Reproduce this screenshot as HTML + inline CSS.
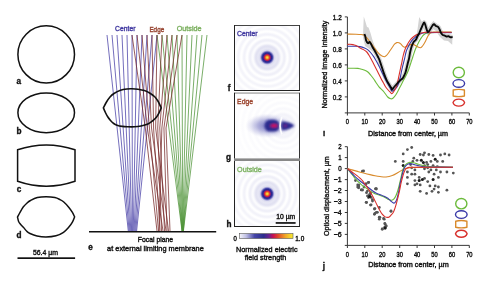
<!DOCTYPE html>
<html><head><meta charset="utf-8"><style>
html,body{margin:0;padding:0;background:#fff;overflow:hidden;}
svg{display:block;font-family:"Liberation Sans", sans-serif;will-change:transform;}
</style></head><body>
<svg width="496" height="281" viewBox="0 0 496 281">
<rect width="496" height="281" fill="#fff"/>
<ellipse cx="46.2" cy="54.4" rx="28.3" ry="28.6" fill="none" stroke="#111" stroke-width="1.5"/>
<ellipse cx="46.2" cy="112.8" rx="28.3" ry="19.9" fill="none" stroke="#111" stroke-width="1.5"/>
<path d="M17.6,149.7 Q46.3,140.2 75,149.7 L75,181.3 Q46.3,191.2 17.6,181.3 Z" fill="none" stroke="#111" stroke-width="1.5"/>
<path d="M17.50,217.10 C17.97,216.22 19.32,213.52 20.30,211.80 C21.28,210.08 22.32,208.23 23.40,206.80 C24.48,205.37 25.62,204.25 26.80,203.20 C27.98,202.15 28.73,201.43 30.50,200.50 C32.27,199.57 34.80,198.22 37.40,197.60 C40.00,196.98 43.18,196.80 46.10,196.80 C49.02,196.80 52.58,197.13 54.90,197.60 C57.22,198.07 58.57,198.90 60.00,199.60 C61.43,200.30 62.05,200.53 63.50,201.80 C64.95,203.07 67.22,205.43 68.70,207.20 C70.18,208.97 71.42,210.78 72.40,212.40 C73.38,214.02 74.23,216.15 74.60,216.90 C74.23,217.77 73.38,220.37 72.40,222.10 C71.42,223.83 70.18,225.60 68.70,227.30 C67.22,229.00 65.62,230.88 63.50,232.30 C61.38,233.72 58.92,235.02 56.00,235.80 C53.08,236.58 49.17,236.97 46.00,237.00 C42.83,237.03 39.67,236.58 37.00,236.00 C34.33,235.42 31.70,234.28 30.00,233.50 C28.30,232.72 27.90,232.33 26.80,231.30 C25.70,230.27 24.48,228.52 23.40,227.30 C22.32,226.08 21.10,224.97 20.30,224.00 C19.50,223.03 19.07,222.65 18.60,221.50 C18.13,220.35 17.68,217.83 17.50,217.10 Z" fill="none" stroke="#111" stroke-width="1.5" stroke-linejoin="miter"/>
<text x="16.40" y="83.60" font-size="8.2" fill="#111" font-weight="bold" stroke="#111" stroke-width="0.35">a</text>
<text x="16.60" y="133.50" font-size="8.2" fill="#111" font-weight="bold" stroke="#111" stroke-width="0.35">b</text>
<text x="16.80" y="191.60" font-size="8.2" fill="#111" font-weight="bold" stroke="#111" stroke-width="0.35">c</text>
<text x="16.60" y="237.60" font-size="8.2" fill="#111" font-weight="bold" stroke="#111" stroke-width="0.35">d</text>
<rect x="17.5" y="257.3" width="57.6" height="1.7" fill="#111"/>
<text x="32.90" y="254.90" font-size="7.6" fill="#111" font-weight="normal" textLength="25.10" lengthAdjust="spacingAndGlyphs" stroke="#111" stroke-width="0.4">56.4 µm</text>
<line x1="107" y1="35.0" x2="128.30" y2="231.0" stroke="#463ea6" stroke-width="0.8" stroke-opacity="0.95"/>
<line x1="112" y1="35.0" x2="129.13" y2="231.0" stroke="#463ea6" stroke-width="0.8" stroke-opacity="0.95"/>
<line x1="117" y1="35.0" x2="129.96" y2="231.0" stroke="#463ea6" stroke-width="0.8" stroke-opacity="0.95"/>
<line x1="122" y1="35.0" x2="130.79" y2="231.0" stroke="#463ea6" stroke-width="0.8" stroke-opacity="0.95"/>
<line x1="127" y1="35.0" x2="131.62" y2="231.0" stroke="#463ea6" stroke-width="0.8" stroke-opacity="0.95"/>
<line x1="132" y1="35.0" x2="132.45" y2="231.0" stroke="#463ea6" stroke-width="0.8" stroke-opacity="0.95"/>
<line x1="137" y1="35.0" x2="133.28" y2="231.0" stroke="#463ea6" stroke-width="0.8" stroke-opacity="0.95"/>
<line x1="142" y1="35.0" x2="134.11" y2="231.0" stroke="#463ea6" stroke-width="0.8" stroke-opacity="0.95"/>
<line x1="147" y1="35.0" x2="134.94" y2="231.0" stroke="#463ea6" stroke-width="0.8" stroke-opacity="0.95"/>
<line x1="152" y1="35.0" x2="135.77" y2="231.0" stroke="#463ea6" stroke-width="0.8" stroke-opacity="0.95"/>
<line x1="157" y1="35.0" x2="136.60" y2="231.0" stroke="#463ea6" stroke-width="0.8" stroke-opacity="0.95"/>
<line x1="157" y1="35.0" x2="182.00" y2="231.0" stroke="#4e9438" stroke-width="0.8" stroke-opacity="0.95"/>
<line x1="162" y1="35.0" x2="182.14" y2="231.0" stroke="#4e9438" stroke-width="0.8" stroke-opacity="0.95"/>
<line x1="167" y1="35.0" x2="182.28" y2="231.0" stroke="#4e9438" stroke-width="0.8" stroke-opacity="0.95"/>
<line x1="172" y1="35.0" x2="182.42" y2="231.0" stroke="#4e9438" stroke-width="0.8" stroke-opacity="0.95"/>
<line x1="177" y1="35.0" x2="182.56" y2="231.0" stroke="#4e9438" stroke-width="0.8" stroke-opacity="0.95"/>
<line x1="182" y1="35.0" x2="182.70" y2="231.0" stroke="#4e9438" stroke-width="0.8" stroke-opacity="0.95"/>
<line x1="187" y1="35.0" x2="182.84" y2="231.0" stroke="#4e9438" stroke-width="0.8" stroke-opacity="0.95"/>
<line x1="192" y1="35.0" x2="182.98" y2="231.0" stroke="#4e9438" stroke-width="0.8" stroke-opacity="0.95"/>
<line x1="197" y1="35.0" x2="183.12" y2="231.0" stroke="#4e9438" stroke-width="0.8" stroke-opacity="0.95"/>
<line x1="202" y1="35.0" x2="183.26" y2="231.0" stroke="#4e9438" stroke-width="0.8" stroke-opacity="0.95"/>
<line x1="207" y1="35.0" x2="183.40" y2="231.0" stroke="#4e9438" stroke-width="0.8" stroke-opacity="0.95"/>
<polyline points="132,35.0 145.30,128 157.00,231.0" fill="none" stroke="#762828" stroke-width="0.8" stroke-opacity="0.95"/>
<polyline points="137,35.0 147.37,128 163.00,231.0" fill="none" stroke="#762828" stroke-width="0.8" stroke-opacity="0.95"/>
<polyline points="142,35.0 149.44,128 158.50,231.0" fill="none" stroke="#762828" stroke-width="0.8" stroke-opacity="0.95"/>
<polyline points="147,35.0 151.51,128 166.00,231.0" fill="none" stroke="#762828" stroke-width="0.8" stroke-opacity="0.95"/>
<polyline points="152,35.0 153.58,128 160.00,231.0" fill="none" stroke="#762828" stroke-width="0.8" stroke-opacity="0.95"/>
<polyline points="157,35.0 155.65,128 168.50,231.0" fill="none" stroke="#762828" stroke-width="0.8" stroke-opacity="0.95"/>
<polyline points="162,35.0 157.72,128 161.50,231.0" fill="none" stroke="#762828" stroke-width="0.8" stroke-opacity="0.95"/>
<polyline points="167,35.0 159.79,128 164.50,231.0" fill="none" stroke="#762828" stroke-width="0.8" stroke-opacity="0.95"/>
<polyline points="172,35.0 161.86,128 159.00,231.0" fill="none" stroke="#762828" stroke-width="0.8" stroke-opacity="0.95"/>
<polyline points="177,35.0 163.93,128 167.00,231.0" fill="none" stroke="#762828" stroke-width="0.8" stroke-opacity="0.95"/>
<polyline points="182,35.0 166.00,128 170.00,231.0" fill="none" stroke="#762828" stroke-width="0.8" stroke-opacity="0.95"/>
<path d="M103.40,107.90 C103.92,106.92 105.40,103.82 106.50,102.00 C107.60,100.18 108.75,98.42 110.00,97.00 C111.25,95.58 112.25,94.62 114.00,93.50 C115.75,92.38 118.33,91.05 120.50,90.30 C122.67,89.55 125.08,89.25 127.00,89.00 C128.92,88.75 130.17,88.75 132.00,88.80 C133.83,88.85 135.93,89.00 138.00,89.30 C140.07,89.60 142.40,89.95 144.40,90.60 C146.40,91.25 148.28,92.17 150.00,93.20 C151.72,94.23 153.33,95.42 154.70,96.80 C156.07,98.18 157.12,99.65 158.20,101.50 C159.28,103.35 160.70,106.83 161.20,107.90 C160.80,108.80 159.60,111.73 158.80,113.30 C158.00,114.87 157.45,116.02 156.40,117.30 C155.35,118.58 153.92,119.88 152.50,121.00 C151.08,122.12 149.82,123.17 147.90,124.00 C145.98,124.83 143.28,125.53 141.00,126.00 C138.72,126.47 136.37,126.67 134.20,126.80 C132.03,126.93 130.00,126.87 128.00,126.80 C126.00,126.73 124.03,126.67 122.20,126.40 C120.37,126.13 118.42,125.68 117.00,125.20 C115.58,124.72 114.78,124.28 113.70,123.50 C112.62,122.72 111.50,121.62 110.50,120.50 C109.50,119.38 108.55,118.13 107.70,116.80 C106.85,115.47 106.12,113.98 105.40,112.50 C104.68,111.02 103.73,108.67 103.40,107.90 Z" fill="none" stroke="#111" stroke-width="1.6" stroke-linejoin="round"/>
<rect x="89" y="231" width="127.2" height="1.5" fill="#111"/>
<text x="115.10" y="31.40" font-size="7.8" fill="#4038a0" font-weight="normal" textLength="20.30" lengthAdjust="spacingAndGlyphs" stroke="#4038a0" stroke-width="0.4">Center</text>
<text x="149.40" y="31.50" font-size="7.8" fill="#96422e" font-weight="normal" textLength="14.80" lengthAdjust="spacingAndGlyphs" stroke="#96422e" stroke-width="0.4">Edge</text>
<text x="176.70" y="31.40" font-size="7.8" fill="#7cb060" font-weight="normal" textLength="24.90" lengthAdjust="spacingAndGlyphs" stroke="#7cb060" stroke-width="0.4">Outside</text>
<text x="137.70" y="242.00" font-size="7.4" fill="#111" font-weight="normal" textLength="35.50" lengthAdjust="spacingAndGlyphs" stroke="#111" stroke-width="0.4">Focal plane</text>
<text x="107.10" y="250.90" font-size="7.4" fill="#111" font-weight="normal" textLength="96.70" lengthAdjust="spacingAndGlyphs" stroke="#111" stroke-width="0.4">at external limiting membrane</text>
<text x="88.20" y="250.00" font-size="8.2" fill="#111" font-weight="bold" stroke="#111" stroke-width="0.35">e</text>
<defs>
<radialGradient id="rings" gradientUnits="userSpaceOnUse" cx="0" cy="0" r="48"><stop offset="0.0000" stop-color="#5050b0" stop-opacity="0.420"/><stop offset="0.0025" stop-color="#5050b0" stop-opacity="0.420"/><stop offset="0.0050" stop-color="#5050b0" stop-opacity="0.420"/><stop offset="0.0075" stop-color="#5050b0" stop-opacity="0.419"/><stop offset="0.0100" stop-color="#5050b0" stop-opacity="0.419"/><stop offset="0.0125" stop-color="#5050b0" stop-opacity="0.418"/><stop offset="0.0150" stop-color="#5050b0" stop-opacity="0.417"/><stop offset="0.0175" stop-color="#5050b0" stop-opacity="0.416"/><stop offset="0.0200" stop-color="#5050b0" stop-opacity="0.415"/><stop offset="0.0225" stop-color="#5050b0" stop-opacity="0.413"/><stop offset="0.0250" stop-color="#5050b0" stop-opacity="0.412"/><stop offset="0.0275" stop-color="#5050b0" stop-opacity="0.410"/><stop offset="0.0300" stop-color="#5050b0" stop-opacity="0.408"/><stop offset="0.0325" stop-color="#5050b0" stop-opacity="0.406"/><stop offset="0.0350" stop-color="#5050b0" stop-opacity="0.404"/><stop offset="0.0375" stop-color="#5050b0" stop-opacity="0.402"/><stop offset="0.0400" stop-color="#5050b0" stop-opacity="0.399"/><stop offset="0.0425" stop-color="#5050b0" stop-opacity="0.396"/><stop offset="0.0450" stop-color="#5050b0" stop-opacity="0.394"/><stop offset="0.0475" stop-color="#5050b0" stop-opacity="0.391"/><stop offset="0.0500" stop-color="#5050b0" stop-opacity="0.388"/><stop offset="0.0525" stop-color="#5050b0" stop-opacity="0.385"/><stop offset="0.0550" stop-color="#5050b0" stop-opacity="0.381"/><stop offset="0.0575" stop-color="#5050b0" stop-opacity="0.378"/><stop offset="0.0600" stop-color="#5050b0" stop-opacity="0.374"/><stop offset="0.0625" stop-color="#5050b0" stop-opacity="0.371"/><stop offset="0.0650" stop-color="#5050b0" stop-opacity="0.367"/><stop offset="0.0675" stop-color="#5050b0" stop-opacity="0.363"/><stop offset="0.0700" stop-color="#5050b0" stop-opacity="0.359"/><stop offset="0.0725" stop-color="#5050b0" stop-opacity="0.355"/><stop offset="0.0750" stop-color="#5050b0" stop-opacity="0.351"/><stop offset="0.0775" stop-color="#5050b0" stop-opacity="0.347"/><stop offset="0.0800" stop-color="#5050b0" stop-opacity="0.342"/><stop offset="0.0825" stop-color="#5050b0" stop-opacity="0.338"/><stop offset="0.0850" stop-color="#5050b0" stop-opacity="0.334"/><stop offset="0.0875" stop-color="#5050b0" stop-opacity="0.329"/><stop offset="0.0900" stop-color="#5050b0" stop-opacity="0.324"/><stop offset="0.0925" stop-color="#5050b0" stop-opacity="0.320"/><stop offset="0.0950" stop-color="#5050b0" stop-opacity="0.315"/><stop offset="0.0975" stop-color="#5050b0" stop-opacity="0.310"/><stop offset="0.1000" stop-color="#5050b0" stop-opacity="0.305"/><stop offset="0.1025" stop-color="#5050b0" stop-opacity="0.300"/><stop offset="0.1050" stop-color="#5050b0" stop-opacity="0.296"/><stop offset="0.1075" stop-color="#5050b0" stop-opacity="0.291"/><stop offset="0.1100" stop-color="#5050b0" stop-opacity="0.286"/><stop offset="0.1125" stop-color="#5050b0" stop-opacity="0.281"/><stop offset="0.1150" stop-color="#5050b0" stop-opacity="0.275"/><stop offset="0.1175" stop-color="#5050b0" stop-opacity="0.270"/><stop offset="0.1200" stop-color="#5050b0" stop-opacity="0.265"/><stop offset="0.1225" stop-color="#5050b0" stop-opacity="0.260"/><stop offset="0.1250" stop-color="#5050b0" stop-opacity="0.255"/><stop offset="0.1275" stop-color="#5050b0" stop-opacity="0.250"/><stop offset="0.1300" stop-color="#5050b0" stop-opacity="0.245"/><stop offset="0.1325" stop-color="#5050b0" stop-opacity="0.240"/><stop offset="0.1350" stop-color="#5050b0" stop-opacity="0.235"/><stop offset="0.1375" stop-color="#5050b0" stop-opacity="0.230"/><stop offset="0.1400" stop-color="#5050b0" stop-opacity="0.225"/><stop offset="0.1425" stop-color="#5050b0" stop-opacity="0.220"/><stop offset="0.1450" stop-color="#5050b0" stop-opacity="0.215"/><stop offset="0.1475" stop-color="#5050b0" stop-opacity="0.210"/><stop offset="0.1500" stop-color="#5050b0" stop-opacity="0.205"/><stop offset="0.1525" stop-color="#5050b0" stop-opacity="0.200"/><stop offset="0.1550" stop-color="#5050b0" stop-opacity="0.195"/><stop offset="0.1575" stop-color="#5050b0" stop-opacity="0.190"/><stop offset="0.1600" stop-color="#5050b0" stop-opacity="0.186"/><stop offset="0.1625" stop-color="#5050b0" stop-opacity="0.181"/><stop offset="0.1650" stop-color="#5050b0" stop-opacity="0.176"/><stop offset="0.1675" stop-color="#5050b0" stop-opacity="0.181"/><stop offset="0.1700" stop-color="#5050b0" stop-opacity="0.173"/><stop offset="0.1725" stop-color="#5050b0" stop-opacity="0.166"/><stop offset="0.1750" stop-color="#5050b0" stop-opacity="0.159"/><stop offset="0.1775" stop-color="#5050b0" stop-opacity="0.154"/><stop offset="0.1800" stop-color="#5050b0" stop-opacity="0.150"/><stop offset="0.1825" stop-color="#5050b0" stop-opacity="0.146"/><stop offset="0.1850" stop-color="#5050b0" stop-opacity="0.143"/><stop offset="0.1875" stop-color="#5050b0" stop-opacity="0.142"/><stop offset="0.1900" stop-color="#5050b0" stop-opacity="0.141"/><stop offset="0.1925" stop-color="#5050b0" stop-opacity="0.140"/><stop offset="0.1950" stop-color="#5050b0" stop-opacity="0.141"/><stop offset="0.1975" stop-color="#5050b0" stop-opacity="0.142"/><stop offset="0.2000" stop-color="#5050b0" stop-opacity="0.144"/><stop offset="0.2025" stop-color="#5050b0" stop-opacity="0.146"/><stop offset="0.2050" stop-color="#5050b0" stop-opacity="0.149"/><stop offset="0.2075" stop-color="#5050b0" stop-opacity="0.152"/><stop offset="0.2100" stop-color="#5050b0" stop-opacity="0.154"/><stop offset="0.2125" stop-color="#5050b0" stop-opacity="0.157"/><stop offset="0.2150" stop-color="#5050b0" stop-opacity="0.160"/><stop offset="0.2175" stop-color="#5050b0" stop-opacity="0.163"/><stop offset="0.2200" stop-color="#5050b0" stop-opacity="0.165"/><stop offset="0.2225" stop-color="#5050b0" stop-opacity="0.167"/><stop offset="0.2250" stop-color="#5050b0" stop-opacity="0.168"/><stop offset="0.2275" stop-color="#5050b0" stop-opacity="0.169"/><stop offset="0.2300" stop-color="#5050b0" stop-opacity="0.169"/><stop offset="0.2325" stop-color="#5050b0" stop-opacity="0.169"/><stop offset="0.2350" stop-color="#5050b0" stop-opacity="0.168"/><stop offset="0.2375" stop-color="#5050b0" stop-opacity="0.166"/><stop offset="0.2400" stop-color="#5050b0" stop-opacity="0.163"/><stop offset="0.2425" stop-color="#5050b0" stop-opacity="0.160"/><stop offset="0.2450" stop-color="#5050b0" stop-opacity="0.156"/><stop offset="0.2475" stop-color="#5050b0" stop-opacity="0.151"/><stop offset="0.2500" stop-color="#5050b0" stop-opacity="0.146"/><stop offset="0.2525" stop-color="#5050b0" stop-opacity="0.140"/><stop offset="0.2550" stop-color="#5050b0" stop-opacity="0.133"/><stop offset="0.2575" stop-color="#5050b0" stop-opacity="0.126"/><stop offset="0.2600" stop-color="#5050b0" stop-opacity="0.119"/><stop offset="0.2625" stop-color="#5050b0" stop-opacity="0.111"/><stop offset="0.2650" stop-color="#5050b0" stop-opacity="0.103"/><stop offset="0.2675" stop-color="#5050b0" stop-opacity="0.095"/><stop offset="0.2700" stop-color="#5050b0" stop-opacity="0.087"/><stop offset="0.2725" stop-color="#5050b0" stop-opacity="0.079"/><stop offset="0.2750" stop-color="#5050b0" stop-opacity="0.071"/><stop offset="0.2775" stop-color="#5050b0" stop-opacity="0.064"/><stop offset="0.2800" stop-color="#5050b0" stop-opacity="0.057"/><stop offset="0.2825" stop-color="#5050b0" stop-opacity="0.051"/><stop offset="0.2850" stop-color="#5050b0" stop-opacity="0.045"/><stop offset="0.2875" stop-color="#5050b0" stop-opacity="0.039"/><stop offset="0.2900" stop-color="#5050b0" stop-opacity="0.035"/><stop offset="0.2925" stop-color="#5050b0" stop-opacity="0.031"/><stop offset="0.2950" stop-color="#5050b0" stop-opacity="0.028"/><stop offset="0.2975" stop-color="#5050b0" stop-opacity="0.025"/><stop offset="0.3000" stop-color="#5050b0" stop-opacity="0.024"/><stop offset="0.3025" stop-color="#5050b0" stop-opacity="0.023"/><stop offset="0.3050" stop-color="#5050b0" stop-opacity="0.023"/><stop offset="0.3075" stop-color="#5050b0" stop-opacity="0.024"/><stop offset="0.3100" stop-color="#5050b0" stop-opacity="0.025"/><stop offset="0.3125" stop-color="#5050b0" stop-opacity="0.028"/><stop offset="0.3150" stop-color="#5050b0" stop-opacity="0.030"/><stop offset="0.3175" stop-color="#5050b0" stop-opacity="0.034"/><stop offset="0.3200" stop-color="#5050b0" stop-opacity="0.038"/><stop offset="0.3225" stop-color="#5050b0" stop-opacity="0.042"/><stop offset="0.3250" stop-color="#5050b0" stop-opacity="0.046"/><stop offset="0.3275" stop-color="#5050b0" stop-opacity="0.051"/><stop offset="0.3300" stop-color="#5050b0" stop-opacity="0.056"/><stop offset="0.3325" stop-color="#5050b0" stop-opacity="0.061"/><stop offset="0.3350" stop-color="#5050b0" stop-opacity="0.065"/><stop offset="0.3375" stop-color="#5050b0" stop-opacity="0.070"/><stop offset="0.3400" stop-color="#5050b0" stop-opacity="0.074"/><stop offset="0.3425" stop-color="#5050b0" stop-opacity="0.078"/><stop offset="0.3450" stop-color="#5050b0" stop-opacity="0.081"/><stop offset="0.3475" stop-color="#5050b0" stop-opacity="0.084"/><stop offset="0.3500" stop-color="#5050b0" stop-opacity="0.087"/><stop offset="0.3525" stop-color="#5050b0" stop-opacity="0.089"/><stop offset="0.3550" stop-color="#5050b0" stop-opacity="0.090"/><stop offset="0.3575" stop-color="#5050b0" stop-opacity="0.090"/><stop offset="0.3600" stop-color="#5050b0" stop-opacity="0.090"/><stop offset="0.3625" stop-color="#5050b0" stop-opacity="0.089"/><stop offset="0.3650" stop-color="#5050b0" stop-opacity="0.088"/><stop offset="0.3675" stop-color="#5050b0" stop-opacity="0.086"/><stop offset="0.3700" stop-color="#5050b0" stop-opacity="0.083"/><stop offset="0.3725" stop-color="#5050b0" stop-opacity="0.079"/><stop offset="0.3750" stop-color="#5050b0" stop-opacity="0.075"/><stop offset="0.3775" stop-color="#5050b0" stop-opacity="0.071"/><stop offset="0.3800" stop-color="#5050b0" stop-opacity="0.066"/><stop offset="0.3825" stop-color="#5050b0" stop-opacity="0.061"/><stop offset="0.3850" stop-color="#5050b0" stop-opacity="0.056"/><stop offset="0.3875" stop-color="#5050b0" stop-opacity="0.050"/><stop offset="0.3900" stop-color="#5050b0" stop-opacity="0.045"/><stop offset="0.3925" stop-color="#5050b0" stop-opacity="0.039"/><stop offset="0.3950" stop-color="#5050b0" stop-opacity="0.034"/><stop offset="0.3975" stop-color="#5050b0" stop-opacity="0.029"/><stop offset="0.4000" stop-color="#5050b0" stop-opacity="0.024"/><stop offset="0.4025" stop-color="#5050b0" stop-opacity="0.019"/><stop offset="0.4050" stop-color="#5050b0" stop-opacity="0.015"/><stop offset="0.4075" stop-color="#5050b0" stop-opacity="0.011"/><stop offset="0.4100" stop-color="#5050b0" stop-opacity="0.008"/><stop offset="0.4125" stop-color="#5050b0" stop-opacity="0.005"/><stop offset="0.4150" stop-color="#5050b0" stop-opacity="0.004"/><stop offset="0.4175" stop-color="#5050b0" stop-opacity="0.002"/><stop offset="0.4200" stop-color="#5050b0" stop-opacity="0.002"/><stop offset="0.4225" stop-color="#5050b0" stop-opacity="0.002"/><stop offset="0.4250" stop-color="#5050b0" stop-opacity="0.002"/><stop offset="0.4275" stop-color="#5050b0" stop-opacity="0.004"/><stop offset="0.4300" stop-color="#5050b0" stop-opacity="0.005"/><stop offset="0.4325" stop-color="#5050b0" stop-opacity="0.008"/><stop offset="0.4350" stop-color="#5050b0" stop-opacity="0.011"/><stop offset="0.4375" stop-color="#5050b0" stop-opacity="0.014"/><stop offset="0.4400" stop-color="#5050b0" stop-opacity="0.018"/><stop offset="0.4425" stop-color="#5050b0" stop-opacity="0.022"/><stop offset="0.4450" stop-color="#5050b0" stop-opacity="0.027"/><stop offset="0.4475" stop-color="#5050b0" stop-opacity="0.031"/><stop offset="0.4500" stop-color="#5050b0" stop-opacity="0.036"/><stop offset="0.4525" stop-color="#5050b0" stop-opacity="0.041"/><stop offset="0.4550" stop-color="#5050b0" stop-opacity="0.045"/><stop offset="0.4575" stop-color="#5050b0" stop-opacity="0.050"/><stop offset="0.4600" stop-color="#5050b0" stop-opacity="0.054"/><stop offset="0.4625" stop-color="#5050b0" stop-opacity="0.058"/><stop offset="0.4650" stop-color="#5050b0" stop-opacity="0.062"/><stop offset="0.4675" stop-color="#5050b0" stop-opacity="0.065"/><stop offset="0.4700" stop-color="#5050b0" stop-opacity="0.067"/><stop offset="0.4725" stop-color="#5050b0" stop-opacity="0.069"/><stop offset="0.4750" stop-color="#5050b0" stop-opacity="0.071"/><stop offset="0.4775" stop-color="#5050b0" stop-opacity="0.072"/><stop offset="0.4800" stop-color="#5050b0" stop-opacity="0.072"/><stop offset="0.4825" stop-color="#5050b0" stop-opacity="0.072"/><stop offset="0.4850" stop-color="#5050b0" stop-opacity="0.071"/><stop offset="0.4875" stop-color="#5050b0" stop-opacity="0.070"/><stop offset="0.4900" stop-color="#5050b0" stop-opacity="0.068"/><stop offset="0.4925" stop-color="#5050b0" stop-opacity="0.065"/><stop offset="0.4950" stop-color="#5050b0" stop-opacity="0.062"/><stop offset="0.4975" stop-color="#5050b0" stop-opacity="0.059"/><stop offset="0.5000" stop-color="#5050b0" stop-opacity="0.055"/><stop offset="0.5025" stop-color="#5050b0" stop-opacity="0.051"/><stop offset="0.5050" stop-color="#5050b0" stop-opacity="0.047"/><stop offset="0.5075" stop-color="#5050b0" stop-opacity="0.042"/><stop offset="0.5100" stop-color="#5050b0" stop-opacity="0.038"/><stop offset="0.5125" stop-color="#5050b0" stop-opacity="0.033"/><stop offset="0.5150" stop-color="#5050b0" stop-opacity="0.028"/><stop offset="0.5175" stop-color="#5050b0" stop-opacity="0.024"/><stop offset="0.5200" stop-color="#5050b0" stop-opacity="0.020"/><stop offset="0.5225" stop-color="#5050b0" stop-opacity="0.016"/><stop offset="0.5250" stop-color="#5050b0" stop-opacity="0.012"/><stop offset="0.5275" stop-color="#5050b0" stop-opacity="0.009"/><stop offset="0.5300" stop-color="#5050b0" stop-opacity="0.006"/><stop offset="0.5325" stop-color="#5050b0" stop-opacity="0.004"/><stop offset="0.5350" stop-color="#5050b0" stop-opacity="0.002"/><stop offset="0.5375" stop-color="#5050b0" stop-opacity="0.001"/><stop offset="0.5400" stop-color="#5050b0" stop-opacity="0.000"/><stop offset="0.5425" stop-color="#5050b0" stop-opacity="0.000"/><stop offset="0.5450" stop-color="#5050b0" stop-opacity="0.001"/><stop offset="0.5475" stop-color="#5050b0" stop-opacity="0.002"/><stop offset="0.5500" stop-color="#5050b0" stop-opacity="0.003"/><stop offset="0.5525" stop-color="#5050b0" stop-opacity="0.005"/><stop offset="0.5550" stop-color="#5050b0" stop-opacity="0.008"/><stop offset="0.5575" stop-color="#5050b0" stop-opacity="0.011"/><stop offset="0.5600" stop-color="#5050b0" stop-opacity="0.014"/><stop offset="0.5625" stop-color="#5050b0" stop-opacity="0.017"/><stop offset="0.5650" stop-color="#5050b0" stop-opacity="0.021"/><stop offset="0.5675" stop-color="#5050b0" stop-opacity="0.025"/><stop offset="0.5700" stop-color="#5050b0" stop-opacity="0.029"/><stop offset="0.5725" stop-color="#5050b0" stop-opacity="0.033"/><stop offset="0.5750" stop-color="#5050b0" stop-opacity="0.037"/><stop offset="0.5775" stop-color="#5050b0" stop-opacity="0.041"/><stop offset="0.5800" stop-color="#5050b0" stop-opacity="0.045"/><stop offset="0.5825" stop-color="#5050b0" stop-opacity="0.049"/><stop offset="0.5850" stop-color="#5050b0" stop-opacity="0.052"/><stop offset="0.5875" stop-color="#5050b0" stop-opacity="0.055"/><stop offset="0.5900" stop-color="#5050b0" stop-opacity="0.057"/><stop offset="0.5925" stop-color="#5050b0" stop-opacity="0.059"/><stop offset="0.5950" stop-color="#5050b0" stop-opacity="0.061"/><stop offset="0.5975" stop-color="#5050b0" stop-opacity="0.062"/><stop offset="0.6000" stop-color="#5050b0" stop-opacity="0.062"/><stop offset="0.6025" stop-color="#5050b0" stop-opacity="0.062"/><stop offset="0.6050" stop-color="#5050b0" stop-opacity="0.062"/><stop offset="0.6075" stop-color="#5050b0" stop-opacity="0.061"/><stop offset="0.6100" stop-color="#5050b0" stop-opacity="0.059"/><stop offset="0.6125" stop-color="#5050b0" stop-opacity="0.057"/><stop offset="0.6150" stop-color="#5050b0" stop-opacity="0.055"/><stop offset="0.6175" stop-color="#5050b0" stop-opacity="0.052"/><stop offset="0.6200" stop-color="#5050b0" stop-opacity="0.049"/><stop offset="0.6225" stop-color="#5050b0" stop-opacity="0.045"/><stop offset="0.6250" stop-color="#5050b0" stop-opacity="0.042"/><stop offset="0.6275" stop-color="#5050b0" stop-opacity="0.038"/><stop offset="0.6300" stop-color="#5050b0" stop-opacity="0.034"/><stop offset="0.6325" stop-color="#5050b0" stop-opacity="0.030"/><stop offset="0.6350" stop-color="#5050b0" stop-opacity="0.026"/><stop offset="0.6375" stop-color="#5050b0" stop-opacity="0.022"/><stop offset="0.6400" stop-color="#5050b0" stop-opacity="0.018"/><stop offset="0.6425" stop-color="#5050b0" stop-opacity="0.015"/><stop offset="0.6450" stop-color="#5050b0" stop-opacity="0.011"/><stop offset="0.6475" stop-color="#5050b0" stop-opacity="0.009"/><stop offset="0.6500" stop-color="#5050b0" stop-opacity="0.006"/><stop offset="0.6525" stop-color="#5050b0" stop-opacity="0.004"/><stop offset="0.6550" stop-color="#5050b0" stop-opacity="0.002"/><stop offset="0.6575" stop-color="#5050b0" stop-opacity="0.001"/><stop offset="0.6600" stop-color="#5050b0" stop-opacity="0.000"/><stop offset="0.6625" stop-color="#5050b0" stop-opacity="0.000"/><stop offset="0.6650" stop-color="#5050b0" stop-opacity="0.000"/><stop offset="0.6675" stop-color="#5050b0" stop-opacity="0.001"/><stop offset="0.6700" stop-color="#5050b0" stop-opacity="0.002"/><stop offset="0.6725" stop-color="#5050b0" stop-opacity="0.004"/><stop offset="0.6750" stop-color="#5050b0" stop-opacity="0.006"/><stop offset="0.6775" stop-color="#5050b0" stop-opacity="0.008"/><stop offset="0.6800" stop-color="#5050b0" stop-opacity="0.011"/><stop offset="0.6825" stop-color="#5050b0" stop-opacity="0.014"/><stop offset="0.6850" stop-color="#5050b0" stop-opacity="0.017"/><stop offset="0.6875" stop-color="#5050b0" stop-opacity="0.021"/><stop offset="0.6900" stop-color="#5050b0" stop-opacity="0.024"/><stop offset="0.6925" stop-color="#5050b0" stop-opacity="0.028"/><stop offset="0.6950" stop-color="#5050b0" stop-opacity="0.031"/><stop offset="0.6975" stop-color="#5050b0" stop-opacity="0.035"/><stop offset="0.7000" stop-color="#5050b0" stop-opacity="0.038"/><stop offset="0.7025" stop-color="#5050b0" stop-opacity="0.041"/><stop offset="0.7050" stop-color="#5050b0" stop-opacity="0.044"/><stop offset="0.7075" stop-color="#5050b0" stop-opacity="0.047"/><stop offset="0.7100" stop-color="#5050b0" stop-opacity="0.049"/><stop offset="0.7125" stop-color="#5050b0" stop-opacity="0.051"/><stop offset="0.7150" stop-color="#5050b0" stop-opacity="0.052"/><stop offset="0.7175" stop-color="#5050b0" stop-opacity="0.053"/><stop offset="0.7200" stop-color="#5050b0" stop-opacity="0.054"/><stop offset="0.7225" stop-color="#5050b0" stop-opacity="0.054"/><stop offset="0.7250" stop-color="#5050b0" stop-opacity="0.054"/><stop offset="0.7275" stop-color="#5050b0" stop-opacity="0.053"/><stop offset="0.7300" stop-color="#5050b0" stop-opacity="0.052"/><stop offset="0.7325" stop-color="#5050b0" stop-opacity="0.050"/><stop offset="0.7350" stop-color="#5050b0" stop-opacity="0.048"/><stop offset="0.7375" stop-color="#5050b0" stop-opacity="0.046"/><stop offset="0.7400" stop-color="#5050b0" stop-opacity="0.043"/><stop offset="0.7425" stop-color="#5050b0" stop-opacity="0.040"/><stop offset="0.7450" stop-color="#5050b0" stop-opacity="0.037"/><stop offset="0.7475" stop-color="#5050b0" stop-opacity="0.034"/><stop offset="0.7500" stop-color="#5050b0" stop-opacity="0.030"/><stop offset="0.7525" stop-color="#5050b0" stop-opacity="0.027"/><stop offset="0.7550" stop-color="#5050b0" stop-opacity="0.023"/><stop offset="0.7575" stop-color="#5050b0" stop-opacity="0.020"/><stop offset="0.7600" stop-color="#5050b0" stop-opacity="0.017"/><stop offset="0.7625" stop-color="#5050b0" stop-opacity="0.014"/><stop offset="0.7650" stop-color="#5050b0" stop-opacity="0.011"/><stop offset="0.7675" stop-color="#5050b0" stop-opacity="0.008"/><stop offset="0.7700" stop-color="#5050b0" stop-opacity="0.006"/><stop offset="0.7725" stop-color="#5050b0" stop-opacity="0.004"/><stop offset="0.7750" stop-color="#5050b0" stop-opacity="0.002"/><stop offset="0.7775" stop-color="#5050b0" stop-opacity="0.001"/><stop offset="0.7800" stop-color="#5050b0" stop-opacity="0.000"/><stop offset="0.7825" stop-color="#5050b0" stop-opacity="0.000"/><stop offset="0.7850" stop-color="#5050b0" stop-opacity="0.000"/><stop offset="0.7875" stop-color="#5050b0" stop-opacity="0.001"/><stop offset="0.7900" stop-color="#5050b0" stop-opacity="0.001"/><stop offset="0.7925" stop-color="#5050b0" stop-opacity="0.003"/><stop offset="0.7950" stop-color="#5050b0" stop-opacity="0.004"/><stop offset="0.7975" stop-color="#5050b0" stop-opacity="0.006"/><stop offset="0.8000" stop-color="#5050b0" stop-opacity="0.009"/><stop offset="0.8025" stop-color="#5050b0" stop-opacity="0.011"/><stop offset="0.8050" stop-color="#5050b0" stop-opacity="0.014"/><stop offset="0.8075" stop-color="#5050b0" stop-opacity="0.017"/><stop offset="0.8100" stop-color="#5050b0" stop-opacity="0.020"/><stop offset="0.8125" stop-color="#5050b0" stop-opacity="0.023"/><stop offset="0.8150" stop-color="#5050b0" stop-opacity="0.026"/><stop offset="0.8175" stop-color="#5050b0" stop-opacity="0.029"/><stop offset="0.8200" stop-color="#5050b0" stop-opacity="0.032"/><stop offset="0.8225" stop-color="#5050b0" stop-opacity="0.035"/><stop offset="0.8250" stop-color="#5050b0" stop-opacity="0.037"/><stop offset="0.8275" stop-color="#5050b0" stop-opacity="0.040"/><stop offset="0.8300" stop-color="#5050b0" stop-opacity="0.042"/><stop offset="0.8325" stop-color="#5050b0" stop-opacity="0.043"/><stop offset="0.8350" stop-color="#5050b0" stop-opacity="0.045"/><stop offset="0.8375" stop-color="#5050b0" stop-opacity="0.046"/><stop offset="0.8400" stop-color="#5050b0" stop-opacity="0.046"/><stop offset="0.8425" stop-color="#5050b0" stop-opacity="0.047"/><stop offset="0.8450" stop-color="#5050b0" stop-opacity="0.047"/><stop offset="0.8475" stop-color="#5050b0" stop-opacity="0.046"/><stop offset="0.8500" stop-color="#5050b0" stop-opacity="0.045"/><stop offset="0.8525" stop-color="#5050b0" stop-opacity="0.044"/><stop offset="0.8550" stop-color="#5050b0" stop-opacity="0.042"/><stop offset="0.8575" stop-color="#5050b0" stop-opacity="0.040"/><stop offset="0.8600" stop-color="#5050b0" stop-opacity="0.038"/><stop offset="0.8625" stop-color="#5050b0" stop-opacity="0.036"/><stop offset="0.8650" stop-color="#5050b0" stop-opacity="0.033"/><stop offset="0.8675" stop-color="#5050b0" stop-opacity="0.030"/><stop offset="0.8700" stop-color="#5050b0" stop-opacity="0.027"/><stop offset="0.8725" stop-color="#5050b0" stop-opacity="0.024"/><stop offset="0.8750" stop-color="#5050b0" stop-opacity="0.021"/><stop offset="0.8775" stop-color="#5050b0" stop-opacity="0.018"/><stop offset="0.8800" stop-color="#5050b0" stop-opacity="0.015"/><stop offset="0.8825" stop-color="#5050b0" stop-opacity="0.013"/><stop offset="0.8850" stop-color="#5050b0" stop-opacity="0.010"/><stop offset="0.8875" stop-color="#5050b0" stop-opacity="0.008"/><stop offset="0.8900" stop-color="#5050b0" stop-opacity="0.006"/><stop offset="0.8925" stop-color="#5050b0" stop-opacity="0.004"/><stop offset="0.8950" stop-color="#5050b0" stop-opacity="0.002"/><stop offset="0.8975" stop-color="#5050b0" stop-opacity="0.001"/><stop offset="0.9000" stop-color="#5050b0" stop-opacity="0.001"/><stop offset="0.9025" stop-color="#5050b0" stop-opacity="0.000"/><stop offset="0.9050" stop-color="#5050b0" stop-opacity="0.000"/><stop offset="0.9075" stop-color="#5050b0" stop-opacity="0.000"/><stop offset="0.9100" stop-color="#5050b0" stop-opacity="0.001"/><stop offset="0.9125" stop-color="#5050b0" stop-opacity="0.002"/><stop offset="0.9150" stop-color="#5050b0" stop-opacity="0.003"/><stop offset="0.9175" stop-color="#5050b0" stop-opacity="0.005"/><stop offset="0.9200" stop-color="#5050b0" stop-opacity="0.007"/><stop offset="0.9225" stop-color="#5050b0" stop-opacity="0.009"/><stop offset="0.9250" stop-color="#5050b0" stop-opacity="0.011"/><stop offset="0.9275" stop-color="#5050b0" stop-opacity="0.014"/><stop offset="0.9300" stop-color="#5050b0" stop-opacity="0.016"/><stop offset="0.9325" stop-color="#5050b0" stop-opacity="0.019"/><stop offset="0.9350" stop-color="#5050b0" stop-opacity="0.022"/><stop offset="0.9375" stop-color="#5050b0" stop-opacity="0.024"/><stop offset="0.9400" stop-color="#5050b0" stop-opacity="0.027"/><stop offset="0.9425" stop-color="#5050b0" stop-opacity="0.029"/><stop offset="0.9450" stop-color="#5050b0" stop-opacity="0.031"/><stop offset="0.9475" stop-color="#5050b0" stop-opacity="0.034"/><stop offset="0.9500" stop-color="#5050b0" stop-opacity="0.035"/><stop offset="0.9525" stop-color="#5050b0" stop-opacity="0.037"/><stop offset="0.9550" stop-color="#5050b0" stop-opacity="0.038"/><stop offset="0.9575" stop-color="#5050b0" stop-opacity="0.039"/><stop offset="0.9600" stop-color="#5050b0" stop-opacity="0.040"/><stop offset="0.9625" stop-color="#5050b0" stop-opacity="0.040"/><stop offset="0.9650" stop-color="#5050b0" stop-opacity="0.040"/><stop offset="0.9675" stop-color="#5050b0" stop-opacity="0.040"/><stop offset="0.9700" stop-color="#5050b0" stop-opacity="0.039"/><stop offset="0.9725" stop-color="#5050b0" stop-opacity="0.038"/><stop offset="0.9750" stop-color="#5050b0" stop-opacity="0.037"/><stop offset="0.9775" stop-color="#5050b0" stop-opacity="0.035"/><stop offset="0.9800" stop-color="#5050b0" stop-opacity="0.034"/><stop offset="0.9825" stop-color="#5050b0" stop-opacity="0.032"/><stop offset="0.9850" stop-color="#5050b0" stop-opacity="0.029"/><stop offset="0.9875" stop-color="#5050b0" stop-opacity="0.027"/><stop offset="0.9900" stop-color="#5050b0" stop-opacity="0.024"/><stop offset="0.9925" stop-color="#5050b0" stop-opacity="0.022"/><stop offset="0.9950" stop-color="#5050b0" stop-opacity="0.019"/><stop offset="0.9975" stop-color="#5050b0" stop-opacity="0.017"/></radialGradient>
<radialGradient id="spot">
<stop offset="0" stop-color="#f8ec40"/>
<stop offset="0.12" stop-color="#f6c030"/>
<stop offset="0.26" stop-color="#e86028"/>
<stop offset="0.38" stop-color="#c81848"/>
<stop offset="0.48" stop-color="#5a2088"/>
<stop offset="0.58" stop-color="#26268a"/>
<stop offset="0.72" stop-color="#3a3aa6" stop-opacity="0.9"/>
<stop offset="0.86" stop-color="#7c7cc4" stop-opacity="0.5"/>
<stop offset="1" stop-color="#c8c8e8" stop-opacity="0"/>
</radialGradient>
<radialGradient id="haze">
<stop offset="0" stop-color="#5a5ab4" stop-opacity="0.85"/>
<stop offset="0.45" stop-color="#8080c6" stop-opacity="0.6"/>
<stop offset="0.75" stop-color="#b4b4de" stop-opacity="0.35"/>
<stop offset="1" stop-color="#dcdcf0" stop-opacity="0"/>
</radialGradient>
<radialGradient id="blob">
<stop offset="0" stop-color="#d01058"/>
<stop offset="0.28" stop-color="#9a1870"/>
<stop offset="0.5" stop-color="#28288a"/>
<stop offset="0.8" stop-color="#34349a"/>
<stop offset="1" stop-color="#6a6ab8" stop-opacity="0"/>
</radialGradient>
<radialGradient id="blob2">
<stop offset="0" stop-color="#6a1e84"/>
<stop offset="0.35" stop-color="#28288a"/>
<stop offset="0.8" stop-color="#34349a"/>
<stop offset="1" stop-color="#6a6ab8" stop-opacity="0"/>
</radialGradient>
<linearGradient id="cbar" x1="0" x2="1" y1="0" y2="0">
<stop offset="0" stop-color="#f4f4fa"/>
<stop offset="0.12" stop-color="#c0c0e4"/>
<stop offset="0.28" stop-color="#4646a8"/>
<stop offset="0.45" stop-color="#2c2c8c"/>
<stop offset="0.55" stop-color="#6a2090"/>
<stop offset="0.63" stop-color="#c81050"/>
<stop offset="0.72" stop-color="#e04828"/>
<stop offset="0.86" stop-color="#f0a828"/>
<stop offset="1" stop-color="#f8ec30"/>
</linearGradient>
<filter id="bl" x="-50%" y="-50%" width="200%" height="200%"><feGaussianBlur stdDeviation="0.9"/></filter>
<filter id="bl2" x="-50%" y="-50%" width="200%" height="200%"><feGaussianBlur stdDeviation="0.5"/></filter>
<clipPath id="cf"><rect x="235" y="26" width="64" height="64"/></clipPath>
<clipPath id="cg"><rect x="235" y="94" width="64" height="64.4"/></clipPath>
<clipPath id="ch"><rect x="235" y="161" width="64" height="65"/></clipPath>
</defs>
<g clip-path="url(#cf)"><g transform="translate(267.2,57.5)"><rect x="-50" y="-50" width="100" height="100" fill="url(#rings)"/></g></g>
<circle cx="267.2" cy="57.5" r="7.6" fill="url(#spot)"/>
<rect x="234" y="25" width="66" height="1" fill="#444"/>
<rect x="234" y="25" width="1" height="66" fill="#222"/>
<rect x="299" y="25" width="1" height="66" fill="#333"/>
<rect x="234" y="90" width="66" height="1" fill="#222"/>
<text x="237.00" y="35.80" font-size="7.8" fill="#4038a0" font-weight="normal" textLength="20.60" lengthAdjust="spacingAndGlyphs" stroke="#4038a0" stroke-width="0.4">Center</text>
<text x="227.80" y="90.80" font-size="8.2" fill="#111" font-weight="bold" stroke="#111" stroke-width="0.35">f</text>
<g clip-path="url(#cg)">
<g transform="translate(283,125.8)"><rect x="-60" y="-50" width="100" height="100" fill="url(#rings)" opacity="0.4"/></g>
<ellipse cx="267.5" cy="125.7" rx="22.5" ry="12.5" fill="url(#haze)"/>
<g filter="url(#bl)">
<rect x="264.6" y="119.8" width="15" height="11.8" rx="5.2" ry="5.6" fill="#2a2a8e"/>
<path d="M281.6,121.3 Q290,121.6 294.6,125.7 Q290,129.9 281.6,130.3 Q280.6,125.7 281.6,121.3 Z" fill="#2c2c90"/>
<ellipse cx="274" cy="125.7" rx="3.8" ry="1.7" fill="#b01468"/>
<ellipse cx="274.4" cy="125.7" rx="2.4" ry="1.0" fill="#e0105a"/>
<ellipse cx="285.3" cy="125.7" rx="1.8" ry="1.3" fill="#702088"/>
</g>
<path d="M281.8,117.2 Q278.4,125.7 281.8,134.2" fill="none" stroke="#fff" stroke-width="1.7" opacity="0.95" filter="url(#bl2)"/>
</g>
<rect x="234" y="92.2" width="66" height="1.8" fill="#bbb"/>
<rect x="234" y="92.8" width="1" height="66" fill="#222"/>
<rect x="299" y="92.8" width="1" height="66" fill="#333"/>
<rect x="234" y="158.4" width="66" height="2.6" fill="#888"/>
<text x="237.10" y="103.80" font-size="8.0" fill="#9c4630" font-weight="normal" textLength="16.00" lengthAdjust="spacingAndGlyphs" stroke="#9c4630" stroke-width="0.4">Edge</text>
<text x="226.00" y="159.70" font-size="8.2" fill="#111" font-weight="bold" stroke="#111" stroke-width="0.35">g</text>
<g clip-path="url(#ch)"><g transform="translate(267.2,193.8)"><rect x="-50" y="-50" width="100" height="100" fill="url(#rings)"/></g></g>
<circle cx="267.2" cy="193.8" r="7.6" fill="url(#spot)"/>
<rect x="234" y="161" width="1" height="66" fill="#222"/>
<rect x="299" y="161" width="1" height="66" fill="#333"/>
<rect x="234" y="226" width="66" height="1" fill="#222"/>
<text x="237.10" y="171.80" font-size="7.8" fill="#80b466" font-weight="normal" textLength="24.70" lengthAdjust="spacingAndGlyphs" stroke="#80b466" stroke-width="0.4">Outside</text>
<rect x="275.7" y="222.1" width="19.9" height="1.7" fill="#111"/>
<text x="276.30" y="219.00" font-size="6.8" fill="#111" font-weight="normal" textLength="18.90" lengthAdjust="spacingAndGlyphs" stroke="#111" stroke-width="0.4">10 µm</text>
<text x="226.40" y="226.80" font-size="8.2" fill="#111" font-weight="bold" stroke="#111" stroke-width="0.35">h</text>
<rect x="239.6" y="233.6" width="53.4" height="4.9" fill="url(#cbar)" stroke="#555" stroke-width="0.6"/>
<text x="233.50" y="240.90" font-size="6.8" fill="#111" font-weight="normal" textLength="3.30" lengthAdjust="spacingAndGlyphs" stroke="#111" stroke-width="0.4">0</text>
<text x="295.30" y="240.90" font-size="6.8" fill="#111" font-weight="normal" textLength="8.90" lengthAdjust="spacingAndGlyphs" stroke="#111" stroke-width="0.4">1.0</text>
<text x="236.00" y="252.20" font-size="7.7" fill="#111" font-weight="normal" textLength="61.60" lengthAdjust="spacingAndGlyphs" stroke="#111" stroke-width="0.4">Normalized electric</text>
<text x="244.70" y="259.60" font-size="7.7" fill="#111" font-weight="normal" textLength="41.60" lengthAdjust="spacingAndGlyphs" stroke="#111" stroke-width="0.4">field strength</text>
<g stroke="#222" stroke-width="0.9" fill="none">
<path d="M347.4,16.900000000000006 L347.4,112.9 L469.34,112.9"/>
<path d="M344.79999999999995,112.9 L347.4,112.9"/>
<path d="M344.79999999999995,96.9 L347.4,96.9"/>
<path d="M344.79999999999995,80.9 L347.4,80.9"/>
<path d="M344.79999999999995,64.9 L347.4,64.9"/>
<path d="M344.79999999999995,48.9 L347.4,48.9"/>
<path d="M344.79999999999995,32.9 L347.4,32.9"/>
<path d="M344.79999999999995,16.9 L347.4,16.9"/>
<path d="M347.4,112.9 L347.4,115.5"/>
<path d="M364.8,112.9 L364.8,115.5"/>
<path d="M382.2,112.9 L382.2,115.5"/>
<path d="M399.7,112.9 L399.7,115.5"/>
<path d="M417.1,112.9 L417.1,115.5"/>
<path d="M434.5,112.9 L434.5,115.5"/>
<path d="M451.9,112.9 L451.9,115.5"/>
<path d="M469.3,112.9 L469.3,115.5"/>
</g>
<text x="332.80" y="99.60" font-size="7.6" fill="#111" font-weight="normal" textLength="8.90" lengthAdjust="spacingAndGlyphs" stroke="#111" stroke-width="0.4">0.2</text>
<text x="332.80" y="83.60" font-size="7.6" fill="#111" font-weight="normal" textLength="8.90" lengthAdjust="spacingAndGlyphs" stroke="#111" stroke-width="0.4">0.4</text>
<text x="332.80" y="67.60" font-size="7.6" fill="#111" font-weight="normal" textLength="8.90" lengthAdjust="spacingAndGlyphs" stroke="#111" stroke-width="0.4">0.6</text>
<text x="332.80" y="51.60" font-size="7.6" fill="#111" font-weight="normal" textLength="8.90" lengthAdjust="spacingAndGlyphs" stroke="#111" stroke-width="0.4">0.8</text>
<text x="332.80" y="35.60" font-size="7.6" fill="#111" font-weight="normal" textLength="8.90" lengthAdjust="spacingAndGlyphs" stroke="#111" stroke-width="0.4">1.0</text>
<text x="332.80" y="19.60" font-size="7.6" fill="#111" font-weight="normal" textLength="8.90" lengthAdjust="spacingAndGlyphs" stroke="#111" stroke-width="0.4">1.2</text>
<text x="345.80" y="124.30" font-size="7.6" fill="#111" font-weight="normal" textLength="3.20" lengthAdjust="spacingAndGlyphs" stroke="#111" stroke-width="0.4">0</text>
<text x="361.62" y="124.30" font-size="7.6" fill="#111" font-weight="normal" textLength="6.40" lengthAdjust="spacingAndGlyphs" stroke="#111" stroke-width="0.4">10</text>
<text x="379.04" y="124.30" font-size="7.6" fill="#111" font-weight="normal" textLength="6.40" lengthAdjust="spacingAndGlyphs" stroke="#111" stroke-width="0.4">20</text>
<text x="396.46" y="124.30" font-size="7.6" fill="#111" font-weight="normal" textLength="6.40" lengthAdjust="spacingAndGlyphs" stroke="#111" stroke-width="0.4">30</text>
<text x="413.88" y="124.30" font-size="7.6" fill="#111" font-weight="normal" textLength="6.40" lengthAdjust="spacingAndGlyphs" stroke="#111" stroke-width="0.4">40</text>
<text x="431.30" y="124.30" font-size="7.6" fill="#111" font-weight="normal" textLength="6.40" lengthAdjust="spacingAndGlyphs" stroke="#111" stroke-width="0.4">50</text>
<text x="448.72" y="124.30" font-size="7.6" fill="#111" font-weight="normal" textLength="6.40" lengthAdjust="spacingAndGlyphs" stroke="#111" stroke-width="0.4">60</text>
<text x="466.14" y="124.30" font-size="7.6" fill="#111" font-weight="normal" textLength="6.40" lengthAdjust="spacingAndGlyphs" stroke="#111" stroke-width="0.4">70</text>
<text x="368.10" y="135.50" font-size="7.2" fill="#111" font-weight="normal" textLength="79.90" lengthAdjust="spacingAndGlyphs" stroke="#111" stroke-width="0.4">Distance from center, µm</text>
<text transform="translate(326.9,108.4) rotate(-90)" font-size="7.2" fill="#111" stroke="#111" stroke-width="0.35" textLength="87.8" lengthAdjust="spacingAndGlyphs">Normalized Image Intensity</text>
<text x="323.10" y="135.90" font-size="7.8" fill="#111" font-weight="bold" stroke="#111" stroke-width="0.35">i</text>
<g stroke="#222" stroke-width="0.9" fill="none">
<path d="M347.4,146.66 L347.4,245.39 L469.34,245.39"/>
<path d="M344.79999999999995,245.4 L347.4,245.4"/>
<path d="M344.79999999999995,234.4 L347.4,234.4"/>
<path d="M344.79999999999995,223.4 L347.4,223.4"/>
<path d="M344.79999999999995,212.5 L347.4,212.5"/>
<path d="M344.79999999999995,201.5 L347.4,201.5"/>
<path d="M344.79999999999995,190.5 L347.4,190.5"/>
<path d="M344.79999999999995,179.6 L347.4,179.6"/>
<path d="M344.79999999999995,168.6 L347.4,168.6"/>
<path d="M344.79999999999995,157.6 L347.4,157.6"/>
<path d="M344.79999999999995,146.7 L347.4,146.7"/>
<path d="M347.4,245.4 L347.4,248.0"/>
<path d="M364.8,245.4 L364.8,248.0"/>
<path d="M382.2,245.4 L382.2,248.0"/>
<path d="M399.7,245.4 L399.7,248.0"/>
<path d="M417.1,245.4 L417.1,248.0"/>
<path d="M434.5,245.4 L434.5,248.0"/>
<path d="M451.9,245.4 L451.9,248.0"/>
<path d="M469.3,245.4 L469.3,248.0"/>
</g>
<text x="333.70" y="237.12" font-size="7.6" fill="#111" font-weight="normal" textLength="8.00" lengthAdjust="spacingAndGlyphs" stroke="#111" stroke-width="0.4">−6</text>
<text x="333.70" y="226.15" font-size="7.6" fill="#111" font-weight="normal" textLength="8.00" lengthAdjust="spacingAndGlyphs" stroke="#111" stroke-width="0.4">−5</text>
<text x="333.70" y="215.18" font-size="7.6" fill="#111" font-weight="normal" textLength="8.00" lengthAdjust="spacingAndGlyphs" stroke="#111" stroke-width="0.4">−4</text>
<text x="333.70" y="204.21" font-size="7.6" fill="#111" font-weight="normal" textLength="8.00" lengthAdjust="spacingAndGlyphs" stroke="#111" stroke-width="0.4">−3</text>
<text x="333.70" y="193.24" font-size="7.6" fill="#111" font-weight="normal" textLength="8.00" lengthAdjust="spacingAndGlyphs" stroke="#111" stroke-width="0.4">−2</text>
<text x="333.70" y="182.27" font-size="7.6" fill="#111" font-weight="normal" textLength="8.00" lengthAdjust="spacingAndGlyphs" stroke="#111" stroke-width="0.4">−1</text>
<text x="338.30" y="171.30" font-size="7.6" fill="#111" font-weight="normal" textLength="3.40" lengthAdjust="spacingAndGlyphs" stroke="#111" stroke-width="0.4">0</text>
<text x="338.30" y="160.33" font-size="7.6" fill="#111" font-weight="normal" textLength="3.40" lengthAdjust="spacingAndGlyphs" stroke="#111" stroke-width="0.4">1</text>
<text x="338.30" y="149.36" font-size="7.6" fill="#111" font-weight="normal" textLength="3.40" lengthAdjust="spacingAndGlyphs" stroke="#111" stroke-width="0.4">2</text>
<text x="345.80" y="256.70" font-size="7.6" fill="#111" font-weight="normal" textLength="3.20" lengthAdjust="spacingAndGlyphs" stroke="#111" stroke-width="0.4">0</text>
<text x="361.62" y="256.70" font-size="7.6" fill="#111" font-weight="normal" textLength="6.40" lengthAdjust="spacingAndGlyphs" stroke="#111" stroke-width="0.4">10</text>
<text x="379.04" y="256.70" font-size="7.6" fill="#111" font-weight="normal" textLength="6.40" lengthAdjust="spacingAndGlyphs" stroke="#111" stroke-width="0.4">20</text>
<text x="396.46" y="256.70" font-size="7.6" fill="#111" font-weight="normal" textLength="6.40" lengthAdjust="spacingAndGlyphs" stroke="#111" stroke-width="0.4">30</text>
<text x="413.88" y="256.70" font-size="7.6" fill="#111" font-weight="normal" textLength="6.40" lengthAdjust="spacingAndGlyphs" stroke="#111" stroke-width="0.4">40</text>
<text x="431.30" y="256.70" font-size="7.6" fill="#111" font-weight="normal" textLength="6.40" lengthAdjust="spacingAndGlyphs" stroke="#111" stroke-width="0.4">50</text>
<text x="448.72" y="256.70" font-size="7.6" fill="#111" font-weight="normal" textLength="6.40" lengthAdjust="spacingAndGlyphs" stroke="#111" stroke-width="0.4">60</text>
<text x="466.14" y="256.70" font-size="7.6" fill="#111" font-weight="normal" textLength="6.40" lengthAdjust="spacingAndGlyphs" stroke="#111" stroke-width="0.4">70</text>
<text x="368.20" y="267.00" font-size="7.2" fill="#111" font-weight="normal" textLength="80.50" lengthAdjust="spacingAndGlyphs" stroke="#111" stroke-width="0.4">Distance from center, µm</text>
<text transform="translate(328.8,235.9) rotate(-90)" font-size="7.6" fill="#111" stroke="#111" stroke-width="0.35" textLength="79.5" lengthAdjust="spacingAndGlyphs">Optical displacement, µm</text>
<text x="322.80" y="268.80" font-size="8.2" fill="#111" font-weight="bold" stroke="#111" stroke-width="0.35">j</text>
<path d="M364.40,34.00 C364.53,34.33 364.92,34.93 365.20,36.00 C365.48,37.07 365.65,39.20 366.10,40.40 C366.55,41.60 367.33,42.93 367.90,43.20 C368.47,43.47 368.98,41.87 369.50,42.00 C370.02,42.13 370.48,43.12 371.00,44.00 C371.52,44.88 372.05,46.30 372.60,47.30 C373.15,48.30 373.73,49.03 374.30,50.00 C374.87,50.97 375.42,52.02 376.00,53.10 C376.58,54.18 377.22,55.33 377.80,56.50 C378.38,57.67 378.83,58.35 379.50,60.10 C380.17,61.85 381.03,64.70 381.80,67.00 C382.57,69.30 383.33,71.78 384.10,73.90 C384.87,76.02 385.72,78.18 386.40,79.70 C387.08,81.22 387.62,81.98 388.20,83.00 C388.78,84.02 389.35,84.92 389.90,85.80 C390.45,86.68 391.13,87.67 391.50,88.30 C391.87,88.93 391.60,89.90 392.10,89.60 C392.60,89.30 393.62,87.53 394.50,86.50 C395.38,85.47 396.48,84.40 397.40,83.40 C398.32,82.40 399.10,81.38 400.00,80.50 C400.90,79.62 402.10,78.93 402.80,78.10 C403.50,77.27 403.77,76.38 404.20,75.50 C404.63,74.62 405.03,73.88 405.40,72.80 C405.77,71.72 406.10,70.18 406.40,69.00 C406.70,67.82 406.92,66.87 407.20,65.70 C407.48,64.53 407.80,63.18 408.10,62.00 C408.40,60.82 408.65,60.27 409.00,58.60 C409.35,56.93 409.75,54.05 410.20,52.00 C410.65,49.95 411.13,47.97 411.70,46.30 C412.27,44.63 412.88,43.13 413.60,42.00 C414.32,40.87 415.33,40.50 416.00,39.50 C416.67,38.50 417.07,37.03 417.60,36.00 C418.13,34.97 418.75,34.22 419.20,33.30 C419.65,32.38 419.95,31.35 420.30,30.50 C420.65,29.65 420.90,29.12 421.30,28.20 C421.70,27.28 422.22,25.95 422.70,25.00 C423.18,24.05 423.73,22.42 424.20,22.50 C424.67,22.58 425.08,24.33 425.50,25.50 C425.92,26.67 426.32,28.40 426.70,29.50 C427.08,30.60 427.33,31.93 427.80,32.10 C428.27,32.27 428.97,31.18 429.50,30.50 C430.03,29.82 430.50,28.83 431.00,28.00 C431.50,27.17 432.00,26.13 432.50,25.50 C433.00,24.87 433.42,24.12 434.00,24.20 C434.58,24.28 435.28,25.52 436.00,26.00 C436.72,26.48 437.67,26.43 438.30,27.10 C438.93,27.77 439.33,29.00 439.80,30.00 C440.27,31.00 440.60,32.27 441.10,33.10 C441.60,33.93 442.20,34.58 442.80,35.00 C443.40,35.42 444.08,35.35 444.70,35.60 C445.32,35.85 445.87,36.40 446.50,36.50 C447.13,36.60 447.83,36.08 448.50,36.20 C449.17,36.32 449.82,37.07 450.50,37.20 C451.18,37.33 452.25,37.03 452.60,37.00" fill="none" stroke="#d4d4d4" stroke-width="4.5" stroke-linejoin="round"/>
<polygon points="363,35 363.8,16.5 365.5,22 367,27 368.5,27.5 370.5,33 372.5,40 374.5,46 376,52 372,51 368,48 365,46" fill="#d4d4d4"/>
<polygon points="417,33 419.2,17.1 422,22 424,20 428,28 431,24 433.5,20.7 437,26 440,27 444,33 447,34 452.5,35 452.2,44.7 448,41 444,40.5 440,37 436,31 433,29 429,36 426,33 423,28 420,33" fill="#d4d4d4"/>
<path d="M347.40,68.20 C348.50,68.20 352.23,68.17 354.00,68.20 C355.77,68.23 357.00,68.30 358.00,68.40 C359.00,68.50 359.00,68.53 360.00,68.80 C361.00,69.07 362.68,69.47 364.00,70.00 C365.32,70.53 366.73,71.08 367.90,72.00 C369.07,72.92 370.03,74.33 371.00,75.50 C371.97,76.67 372.87,77.83 373.70,79.00 C374.53,80.17 375.12,81.20 376.00,82.50 C376.88,83.80 378.00,85.58 379.00,86.80 C380.00,88.02 381.17,88.93 382.00,89.80 C382.83,90.67 383.05,90.80 384.00,92.00 C384.95,93.20 386.57,95.87 387.70,97.00 C388.83,98.13 389.93,98.60 390.80,98.80 C391.67,99.00 392.08,98.83 392.90,98.20 C393.72,97.57 394.77,96.37 395.70,95.00 C396.63,93.63 397.62,91.63 398.50,90.00 C399.38,88.37 399.98,87.18 401.00,85.20 C402.02,83.22 403.42,80.47 404.60,78.10 C405.78,75.73 407.12,73.35 408.10,71.00 C409.08,68.65 409.72,66.33 410.50,64.00 C411.28,61.67 411.97,59.50 412.80,57.00 C413.63,54.50 414.43,51.63 415.50,49.00 C416.57,46.37 418.20,43.12 419.20,41.20 C420.20,39.28 420.78,38.53 421.50,37.50 C422.22,36.47 422.73,35.70 423.50,35.00 C424.27,34.30 425.18,33.70 426.10,33.30 C427.02,32.90 427.52,32.75 429.00,32.60 C430.48,32.45 431.23,32.43 435.00,32.40 C438.77,32.37 448.83,32.40 451.60,32.40" fill="none" stroke="#6cbb3c" stroke-width="1.1"/>
<path d="M347.40,34.10 C348.83,34.12 353.73,34.13 356.00,34.20 C358.27,34.27 359.67,34.32 361.00,34.50 C362.33,34.68 363.08,34.80 364.00,35.30 C364.92,35.80 365.67,36.63 366.50,37.50 C367.33,38.37 368.08,39.33 369.00,40.50 C369.92,41.67 371.00,43.12 372.00,44.50 C373.00,45.88 374.00,47.45 375.00,48.80 C376.00,50.15 377.08,51.57 378.00,52.60 C378.92,53.63 379.75,54.38 380.50,55.00 C381.25,55.62 381.85,56.02 382.50,56.30 C383.15,56.58 383.73,56.85 384.40,56.70 C385.07,56.55 385.73,56.15 386.50,55.40 C387.27,54.65 388.08,53.47 389.00,52.20 C389.92,50.93 391.08,49.13 392.00,47.80 C392.92,46.47 393.70,45.07 394.50,44.20 C395.30,43.33 396.05,42.83 396.80,42.60 C397.55,42.37 398.30,42.53 399.00,42.80 C399.70,43.07 400.33,43.60 401.00,44.20 C401.67,44.80 402.40,45.88 403.00,46.40 C403.60,46.92 404.02,47.28 404.60,47.30 C405.18,47.32 405.85,46.82 406.50,46.50 C407.15,46.18 407.83,45.72 408.50,45.40 C409.17,45.08 409.78,44.77 410.50,44.60 C411.22,44.43 412.05,44.30 412.80,44.40 C413.55,44.50 414.22,44.80 415.00,45.20 C415.78,45.60 416.62,46.37 417.50,46.80 C418.38,47.23 419.47,47.93 420.30,47.80 C421.13,47.67 421.85,46.72 422.50,46.00 C423.15,45.28 423.68,44.33 424.20,43.50 C424.72,42.67 425.10,42.00 425.60,41.00 C426.10,40.00 426.67,38.57 427.20,37.50 C427.73,36.43 428.18,35.38 428.80,34.60 C429.42,33.82 430.03,33.17 430.90,32.80 C431.77,32.43 430.55,32.47 434.00,32.40 C437.45,32.33 448.67,32.40 451.60,32.40" fill="none" stroke="#d98a2b" stroke-width="1.1"/>
<path d="M347.40,46.30 C348.67,46.30 352.90,46.25 355.00,46.30 C357.10,46.35 358.42,46.32 360.00,46.60 C361.58,46.88 363.18,47.45 364.50,48.00 C365.82,48.55 366.82,49.07 367.90,49.90 C368.98,50.73 370.03,51.88 371.00,53.00 C371.97,54.12 372.87,55.35 373.70,56.60 C374.53,57.85 375.23,59.15 376.00,60.50 C376.77,61.85 377.53,63.20 378.30,64.70 C379.07,66.20 379.82,67.87 380.60,69.50 C381.38,71.13 382.23,72.92 383.00,74.50 C383.77,76.08 384.43,77.50 385.20,79.00 C385.97,80.50 386.77,82.00 387.60,83.50 C388.43,85.00 389.45,86.72 390.20,88.00 C390.95,89.28 391.30,91.03 392.10,91.20 C392.90,91.37 394.12,89.85 395.00,89.00 C395.88,88.15 396.77,87.18 397.40,86.10 C398.03,85.02 398.35,83.83 398.80,82.50 C399.25,81.17 399.65,79.93 400.10,78.10 C400.55,76.27 401.05,73.57 401.50,71.50 C401.95,69.43 402.28,67.85 402.80,65.70 C403.32,63.55 404.03,60.97 404.60,58.60 C405.17,56.23 405.55,53.55 406.20,51.50 C406.85,49.45 407.78,47.80 408.50,46.30 C409.22,44.80 409.78,43.65 410.50,42.50 C411.22,41.35 411.97,40.32 412.80,39.40 C413.63,38.48 414.62,37.72 415.50,37.00 C416.38,36.28 417.22,35.63 418.10,35.10 C418.98,34.57 419.90,34.15 420.80,33.80 C421.70,33.45 422.47,33.20 423.50,33.00 C424.53,32.80 422.32,32.67 427.00,32.60 C431.68,32.53 447.50,32.60 451.60,32.60" fill="none" stroke="#3a3aa8" stroke-width="1.1"/>
<path d="M347.40,44.40 C347.83,44.38 349.07,44.27 350.00,44.30 C350.93,44.33 352.00,44.38 353.00,44.60 C354.00,44.82 355.17,45.27 356.00,45.60 C356.83,45.93 357.33,46.20 358.00,46.60 C358.67,47.00 359.08,47.50 360.00,48.00 C360.92,48.50 362.37,48.93 363.50,49.60 C364.63,50.27 365.88,51.05 366.80,52.00 C367.72,52.95 368.23,54.05 369.00,55.30 C369.77,56.55 370.62,58.05 371.40,59.50 C372.18,60.95 372.93,62.50 373.70,64.00 C374.47,65.50 375.20,66.92 376.00,68.50 C376.80,70.08 377.67,71.83 378.50,73.50 C379.33,75.17 380.22,77.00 381.00,78.50 C381.78,80.00 382.50,81.22 383.20,82.50 C383.90,83.78 384.45,85.03 385.20,86.20 C385.95,87.37 386.87,88.50 387.70,89.50 C388.53,90.50 389.47,91.52 390.20,92.20 C390.93,92.88 391.38,93.88 392.10,93.60 C392.82,93.32 393.75,91.75 394.50,90.50 C395.25,89.25 396.02,87.77 396.60,86.10 C397.18,84.43 397.57,82.42 398.00,80.50 C398.43,78.58 398.77,76.68 399.20,74.60 C399.63,72.52 400.15,70.08 400.60,68.00 C401.05,65.92 401.50,64.02 401.90,62.10 C402.30,60.18 402.57,58.35 403.00,56.50 C403.43,54.65 403.93,52.70 404.50,51.00 C405.07,49.30 405.73,47.72 406.40,46.30 C407.07,44.88 407.78,43.65 408.50,42.50 C409.22,41.35 409.92,40.32 410.70,39.40 C411.48,38.48 412.32,37.72 413.20,37.00 C414.08,36.28 415.07,35.63 416.00,35.10 C416.93,34.57 417.92,34.15 418.80,33.80 C419.68,33.45 420.43,33.22 421.30,33.00 C422.17,32.78 423.10,32.62 424.00,32.50 C424.90,32.38 422.10,32.33 426.70,32.30 C431.30,32.27 447.45,32.30 451.60,32.30" fill="none" stroke="#d8302c" stroke-width="1.1"/>
<path d="M364.40,34.00 C364.53,34.33 364.92,34.93 365.20,36.00 C365.48,37.07 365.65,39.20 366.10,40.40 C366.55,41.60 367.33,42.93 367.90,43.20 C368.47,43.47 368.98,41.87 369.50,42.00 C370.02,42.13 370.48,43.12 371.00,44.00 C371.52,44.88 372.05,46.30 372.60,47.30 C373.15,48.30 373.73,49.03 374.30,50.00 C374.87,50.97 375.42,52.02 376.00,53.10 C376.58,54.18 377.22,55.33 377.80,56.50 C378.38,57.67 378.83,58.35 379.50,60.10 C380.17,61.85 381.03,64.70 381.80,67.00 C382.57,69.30 383.33,71.78 384.10,73.90 C384.87,76.02 385.72,78.18 386.40,79.70 C387.08,81.22 387.62,81.98 388.20,83.00 C388.78,84.02 389.35,84.92 389.90,85.80 C390.45,86.68 391.13,87.67 391.50,88.30 C391.87,88.93 391.60,89.90 392.10,89.60 C392.60,89.30 393.62,87.53 394.50,86.50 C395.38,85.47 396.48,84.40 397.40,83.40 C398.32,82.40 399.10,81.38 400.00,80.50 C400.90,79.62 402.10,78.93 402.80,78.10 C403.50,77.27 403.77,76.38 404.20,75.50 C404.63,74.62 405.03,73.88 405.40,72.80 C405.77,71.72 406.10,70.18 406.40,69.00 C406.70,67.82 406.92,66.87 407.20,65.70 C407.48,64.53 407.80,63.18 408.10,62.00 C408.40,60.82 408.65,60.27 409.00,58.60 C409.35,56.93 409.75,54.05 410.20,52.00 C410.65,49.95 411.13,47.97 411.70,46.30 C412.27,44.63 412.88,43.13 413.60,42.00 C414.32,40.87 415.33,40.50 416.00,39.50 C416.67,38.50 417.07,37.03 417.60,36.00 C418.13,34.97 418.75,34.22 419.20,33.30 C419.65,32.38 419.95,31.35 420.30,30.50 C420.65,29.65 420.90,29.12 421.30,28.20 C421.70,27.28 422.22,25.95 422.70,25.00 C423.18,24.05 423.73,22.42 424.20,22.50 C424.67,22.58 425.08,24.33 425.50,25.50 C425.92,26.67 426.32,28.40 426.70,29.50 C427.08,30.60 427.33,31.93 427.80,32.10 C428.27,32.27 428.97,31.18 429.50,30.50 C430.03,29.82 430.50,28.83 431.00,28.00 C431.50,27.17 432.00,26.13 432.50,25.50 C433.00,24.87 433.42,24.12 434.00,24.20 C434.58,24.28 435.28,25.52 436.00,26.00 C436.72,26.48 437.67,26.43 438.30,27.10 C438.93,27.77 439.33,29.00 439.80,30.00 C440.27,31.00 440.60,32.27 441.10,33.10 C441.60,33.93 442.20,34.58 442.80,35.00 C443.40,35.42 444.08,35.35 444.70,35.60 C445.32,35.85 445.87,36.40 446.50,36.50 C447.13,36.60 447.83,36.08 448.50,36.20 C449.17,36.32 449.82,37.07 450.50,37.20 C451.18,37.33 452.25,37.03 452.60,37.00" fill="none" stroke="#0a0a0a" stroke-width="1.9" stroke-linejoin="round"/>
<circle cx="357.7" cy="184.9" r="1.4" fill="#555"/>
<circle cx="358.7" cy="187.8" r="1.4" fill="#555"/>
<circle cx="361.6" cy="189.8" r="1.4" fill="#555"/>
<circle cx="368.5" cy="182.3" r="1.4" fill="#555"/>
<circle cx="375.4" cy="188.8" r="1.4" fill="#555"/>
<circle cx="366.5" cy="192.7" r="1.4" fill="#555"/>
<circle cx="369.5" cy="194.7" r="1.4" fill="#555"/>
<circle cx="369.5" cy="196.6" r="1.4" fill="#555"/>
<circle cx="368.5" cy="197.6" r="1.4" fill="#555"/>
<circle cx="372.4" cy="199.6" r="1.4" fill="#555"/>
<circle cx="366.5" cy="202.5" r="1.4" fill="#555"/>
<circle cx="370.5" cy="205.1" r="1.4" fill="#555"/>
<circle cx="374.4" cy="209" r="1.4" fill="#555"/>
<circle cx="379.3" cy="207.4" r="1.4" fill="#555"/>
<circle cx="376.3" cy="212.3" r="1.4" fill="#555"/>
<circle cx="374.4" cy="214.3" r="1.4" fill="#555"/>
<circle cx="379.3" cy="217.2" r="1.4" fill="#555"/>
<circle cx="379.3" cy="219.2" r="1.4" fill="#555"/>
<circle cx="384.2" cy="219.2" r="1.4" fill="#555"/>
<circle cx="385.1" cy="224.1" r="1.4" fill="#555"/>
<circle cx="386.1" cy="226" r="1.4" fill="#555"/>
<circle cx="385.1" cy="228" r="1.4" fill="#555"/>
<circle cx="382.2" cy="229" r="1.4" fill="#555"/>
<circle cx="391" cy="211.3" r="1.4" fill="#555"/>
<circle cx="363.6" cy="171" r="1.4" fill="#555"/>
<circle cx="358.7" cy="185.1" r="1.4" fill="#555"/>
<circle cx="357.7" cy="187.1" r="1.4" fill="#555"/>
<circle cx="362.6" cy="190" r="1.4" fill="#555"/>
<circle cx="370.5" cy="193" r="1.4" fill="#555"/>
<circle cx="376.3" cy="189" r="1.4" fill="#555"/>
<circle cx="367.5" cy="195.9" r="1.4" fill="#555"/>
<circle cx="407.4" cy="149.6" r="1.4" fill="#555"/>
<circle cx="411.7" cy="147.5" r="1.4" fill="#555"/>
<circle cx="403.2" cy="153.9" r="1.4" fill="#555"/>
<circle cx="395.3" cy="161.4" r="1.4" fill="#555"/>
<circle cx="403.2" cy="161.4" r="1.4" fill="#555"/>
<circle cx="413.8" cy="158.2" r="1.4" fill="#555"/>
<circle cx="417.0" cy="160.3" r="1.4" fill="#555"/>
<circle cx="420.2" cy="154.5" r="1.4" fill="#555"/>
<circle cx="424.5" cy="152.8" r="1.4" fill="#555"/>
<circle cx="428.8" cy="154.5" r="1.4" fill="#555"/>
<circle cx="433.1" cy="155.4" r="1.4" fill="#555"/>
<circle cx="440.5" cy="155.0" r="1.4" fill="#555"/>
<circle cx="444.8" cy="153.9" r="1.4" fill="#555"/>
<circle cx="449.1" cy="155.0" r="1.4" fill="#555"/>
<circle cx="426.6" cy="162.4" r="1.4" fill="#555"/>
<circle cx="430.9" cy="161.4" r="1.4" fill="#555"/>
<circle cx="437.3" cy="161.4" r="1.4" fill="#555"/>
<circle cx="442.7" cy="161.4" r="1.4" fill="#555"/>
<circle cx="424.5" cy="168.8" r="1.4" fill="#555"/>
<circle cx="427.7" cy="167.8" r="1.4" fill="#555"/>
<circle cx="430.9" cy="169.9" r="1.4" fill="#555"/>
<circle cx="436.3" cy="169.9" r="1.4" fill="#555"/>
<circle cx="440.5" cy="172.0" r="1.4" fill="#555"/>
<circle cx="446.9" cy="172.0" r="1.4" fill="#555"/>
<circle cx="453.3" cy="173.1" r="1.4" fill="#555"/>
<circle cx="407.4" cy="172.0" r="1.4" fill="#555"/>
<circle cx="411.7" cy="174.2" r="1.4" fill="#555"/>
<circle cx="414.9" cy="174.2" r="1.4" fill="#555"/>
<circle cx="419.2" cy="177.4" r="1.4" fill="#555"/>
<circle cx="424.5" cy="178.4" r="1.4" fill="#555"/>
<circle cx="407.4" cy="177.4" r="1.4" fill="#555"/>
<circle cx="414.9" cy="180.6" r="1.4" fill="#555"/>
<circle cx="414.9" cy="184.9" r="1.4" fill="#555"/>
<circle cx="407.4" cy="183.8" r="1.4" fill="#555"/>
<circle cx="420.2" cy="184.9" r="1.4" fill="#555"/>
<circle cx="427.7" cy="181.6" r="1.4" fill="#555"/>
<circle cx="429.9" cy="185.9" r="1.4" fill="#555"/>
<circle cx="435.2" cy="185.9" r="1.4" fill="#555"/>
<circle cx="438.4" cy="187.0" r="1.4" fill="#555"/>
<circle cx="434.1" cy="189.1" r="1.4" fill="#555"/>
<circle cx="420.2" cy="191.3" r="1.4" fill="#555"/>
<circle cx="426.6" cy="193.4" r="1.4" fill="#555"/>
<circle cx="432.0" cy="191.3" r="1.4" fill="#555"/>
<circle cx="438.4" cy="192.3" r="1.4" fill="#555"/>
<circle cx="446.9" cy="190.2" r="1.4" fill="#555"/>
<circle cx="411.7" cy="167.8" r="1.4" fill="#555"/>
<circle cx="414.9" cy="169.9" r="1.4" fill="#555"/>
<circle cx="433.1" cy="165.6" r="1.4" fill="#555"/>
<circle cx="437.3" cy="166.7" r="1.4" fill="#555"/>
<circle cx="424.5" cy="165.6" r="1.4" fill="#555"/>
<circle cx="427.7" cy="164.6" r="1.4" fill="#555"/>
<circle cx="423.4" cy="155.0" r="1.4" fill="#555"/>
<circle cx="410.6" cy="164.6" r="1.4" fill="#555"/>
<circle cx="428.8" cy="172.0" r="1.4" fill="#555"/>
<circle cx="434.1" cy="174.2" r="1.4" fill="#555"/>
<circle cx="438.4" cy="177.4" r="1.4" fill="#555"/>
<circle cx="417.0" cy="183.8" r="1.4" fill="#555"/>
<circle cx="412.8" cy="161.4" r="1.4" fill="#555"/>
<circle cx="358.7" cy="186.2" r="1.4" fill="#555"/>
<circle cx="361.2" cy="189.9" r="1.4" fill="#555"/>
<circle cx="366.2" cy="183.7" r="1.4" fill="#555"/>
<circle cx="368.6" cy="182.4" r="1.4" fill="#555"/>
<circle cx="367.4" cy="191.1" r="1.4" fill="#555"/>
<circle cx="369.9" cy="194.9" r="1.4" fill="#555"/>
<circle cx="371.1" cy="197.4" r="1.4" fill="#555"/>
<circle cx="366.2" cy="202.3" r="1.4" fill="#555"/>
<circle cx="371.1" cy="204.8" r="1.4" fill="#555"/>
<circle cx="374.9" cy="208.6" r="1.4" fill="#555"/>
<circle cx="377.4" cy="212.3" r="1.4" fill="#555"/>
<circle cx="374.9" cy="213.5" r="1.4" fill="#555"/>
<circle cx="379.9" cy="217.3" r="1.4" fill="#555"/>
<circle cx="383.6" cy="218.5" r="1.4" fill="#555"/>
<circle cx="384.8" cy="223.5" r="1.4" fill="#555"/>
<circle cx="386.1" cy="226" r="1.4" fill="#555"/>
<circle cx="384.8" cy="227.2" r="1.4" fill="#555"/>
<circle cx="382.3" cy="229.2" r="1.4" fill="#555"/>
<circle cx="376.1" cy="188.7" r="1.4" fill="#555"/>
<circle cx="391" cy="211" r="1.4" fill="#555"/>
<circle cx="362.4" cy="171.2" r="1.4" fill="#555"/>
<circle cx="355.5" cy="180.5" r="1.4" fill="#555"/>
<circle cx="364" cy="187" r="1.4" fill="#555"/>
<circle cx="372.5" cy="201" r="1.4" fill="#555"/>
<circle cx="369.5" cy="196.6" r="1.5" fill="#1a1a1a"/>
<circle cx="385.1" cy="228" r="1.5" fill="#1a1a1a"/>
<circle cx="421.3" cy="160.3" r="1.5" fill="#1a1a1a"/>
<circle cx="435.2" cy="159.2" r="1.5" fill="#1a1a1a"/>
<circle cx="422.4" cy="179.5" r="1.5" fill="#1a1a1a"/>
<circle cx="419.2" cy="180.6" r="1.5" fill="#1a1a1a"/>
<circle cx="433.1" cy="179.5" r="1.5" fill="#1a1a1a"/>
<circle cx="403.2" cy="165.6" r="1.5" fill="#1a1a1a"/>
<circle cx="423.4" cy="162.4" r="1.5" fill="#1a1a1a"/>
<path d="M347.50,168.60 C348.25,168.82 350.33,169.43 352.00,169.90 C353.67,170.37 355.58,170.88 357.50,171.40 C359.42,171.92 361.42,172.47 363.50,173.00 C365.58,173.53 368.08,174.15 370.00,174.60 C371.92,175.05 373.33,175.38 375.00,175.70 C376.67,176.02 378.17,176.28 380.00,176.50 C381.83,176.72 383.95,177.15 386.00,177.00 C388.05,176.85 390.22,176.38 392.30,175.60 C394.38,174.82 396.63,173.37 398.50,172.30 C400.37,171.23 401.92,169.92 403.50,169.20 C405.08,168.48 406.25,168.28 408.00,168.00 C409.75,167.72 412.00,167.60 414.00,167.50 C416.00,167.40 413.50,167.42 420.00,167.40 C426.50,167.38 447.50,167.40 453.00,167.40" fill="none" stroke="#d98a2b" stroke-width="1.1"/>
<path d="M347.50,168.60 C347.92,169.17 349.12,170.87 350.00,172.00 C350.88,173.13 351.88,174.23 352.80,175.40 C353.72,176.57 354.52,177.87 355.50,179.00 C356.48,180.13 357.70,181.23 358.70,182.20 C359.70,183.17 360.52,183.98 361.50,184.80 C362.48,185.62 363.27,186.15 364.60,187.10 C365.93,188.05 367.87,189.45 369.50,190.50 C371.13,191.55 372.82,192.65 374.40,193.40 C375.98,194.15 377.53,194.47 379.00,195.00 C380.47,195.53 382.03,196.10 383.20,196.60 C384.37,197.10 385.12,197.50 386.00,198.00 C386.88,198.50 387.53,199.23 388.50,199.60 C389.47,199.97 390.88,200.33 391.80,200.20 C392.72,200.07 393.30,199.57 394.00,198.80 C394.70,198.03 395.37,196.98 396.00,195.60 C396.63,194.22 397.25,192.27 397.80,190.50 C398.35,188.73 398.78,187.08 399.30,185.00 C399.82,182.92 400.37,180.33 400.90,178.00 C401.43,175.67 401.98,172.83 402.50,171.00 C403.02,169.17 403.47,168.07 404.00,167.00 C404.53,165.93 405.03,165.27 405.70,164.60 C406.37,163.93 407.28,163.37 408.00,163.00 C408.72,162.63 409.17,162.43 410.00,162.40 C410.83,162.37 411.93,162.60 413.00,162.80 C414.07,163.00 415.23,163.27 416.40,163.60 C417.57,163.93 418.73,164.43 420.00,164.80 C421.27,165.17 422.67,165.53 424.00,165.80 C425.33,166.07 426.33,166.23 428.00,166.40 C429.67,166.57 429.83,166.67 434.00,166.80 C438.17,166.93 449.83,167.13 453.00,167.20" fill="none" stroke="#6cbb3c" stroke-width="1.1"/>
<path d="M347.50,168.60 C348.08,169.25 349.78,171.22 351.00,172.50 C352.22,173.78 353.38,174.97 354.80,176.30 C356.22,177.63 357.87,179.15 359.50,180.50 C361.13,181.85 363.10,183.20 364.60,184.40 C366.10,185.60 367.20,186.63 368.50,187.70 C369.80,188.77 371.23,189.95 372.40,190.80 C373.57,191.65 374.52,192.27 375.50,192.80 C376.48,193.33 377.38,193.63 378.30,194.00 C379.22,194.37 380.05,194.62 381.00,195.00 C381.95,195.38 383.08,195.87 384.00,196.30 C384.92,196.73 385.73,197.17 386.50,197.60 C387.27,198.03 387.85,198.30 388.60,198.90 C389.35,199.50 390.12,200.50 391.00,201.20 C391.88,201.90 393.10,203.05 393.90,203.10 C394.70,203.15 395.23,202.42 395.80,201.50 C396.37,200.58 396.80,199.35 397.30,197.60 C397.80,195.85 398.30,193.47 398.80,191.00 C399.30,188.53 399.78,185.30 400.30,182.80 C400.82,180.30 401.37,178.13 401.90,176.00 C402.43,173.87 402.87,171.68 403.50,170.00 C404.13,168.32 404.80,166.93 405.70,165.90 C406.60,164.87 407.93,164.15 408.90,163.80 C409.87,163.45 410.62,163.67 411.50,163.80 C412.38,163.93 413.12,164.30 414.20,164.60 C415.28,164.90 416.57,165.27 418.00,165.60 C419.43,165.93 421.13,166.37 422.80,166.60 C424.47,166.83 422.97,166.90 428.00,167.00 C433.03,167.10 448.83,167.17 453.00,167.20" fill="none" stroke="#3a3aa8" stroke-width="1.1"/>
<path d="M347.50,168.60 C348.25,169.17 350.42,170.83 352.00,172.00 C353.58,173.17 355.67,174.57 357.00,175.60 C358.33,176.63 359.07,177.33 360.00,178.20 C360.93,179.07 361.68,179.70 362.60,180.80 C363.52,181.90 364.52,183.40 365.50,184.80 C366.48,186.20 367.35,187.38 368.50,189.20 C369.65,191.02 370.93,192.98 372.40,195.70 C373.87,198.42 376.03,202.98 377.30,205.50 C378.57,208.02 379.18,209.35 380.00,210.80 C380.82,212.25 381.42,213.23 382.20,214.20 C382.98,215.17 383.88,216.07 384.70,216.60 C385.52,217.13 386.35,217.35 387.10,217.40 C387.85,217.45 388.55,217.27 389.20,216.90 C389.85,216.53 390.33,215.92 391.00,215.20 C391.67,214.48 392.55,213.73 393.20,212.60 C393.85,211.47 394.35,209.97 394.90,208.40 C395.45,206.83 396.00,205.00 396.50,203.20 C397.00,201.40 397.40,199.67 397.90,197.60 C398.40,195.53 398.95,193.32 399.50,190.80 C400.05,188.28 400.62,185.05 401.20,182.50 C401.78,179.95 402.43,177.42 403.00,175.50 C403.57,173.58 404.07,172.13 404.60,171.00 C405.13,169.87 405.48,169.30 406.20,168.70 C406.92,168.10 407.60,167.65 408.90,167.40 C410.20,167.15 406.65,167.23 414.00,167.20 C421.35,167.17 446.50,167.20 453.00,167.20" fill="none" stroke="#d8302c" stroke-width="1.1"/>
<ellipse cx="458.8" cy="72.5" rx="5.6" ry="5.2" fill="none" stroke="#6cbb3c" stroke-width="1.4"/>
<ellipse cx="458.8" cy="83.4" rx="5.8" ry="3.8" fill="none" stroke="#3a3aa8" stroke-width="1.4"/>
<path d="M453.2,90.0 Q458.8,88.7 464.40000000000003,90.0 L464.40000000000003,96.0 Q458.8,97.3 453.2,96.0 Z" fill="none" stroke="#d98a2b" stroke-width="1.4" stroke-linejoin="round"/>
<path d="M453.0,102.6 C453.8,100.1 455.8,99.1 458.8,99.1 C461.8,99.1 463.8,100.1 464.6,102.6 C463.8,105.1 461.8,106.1 458.8,106.1 C455.8,106.1 453.8,105.1 453.0,102.6 Z" fill="none" stroke="#d8302c" stroke-width="1.4"/>
<ellipse cx="461.3" cy="203.7" rx="5.6" ry="5.2" fill="none" stroke="#6cbb3c" stroke-width="1.4"/>
<ellipse cx="461.3" cy="214.6" rx="5.8" ry="3.8" fill="none" stroke="#3a3aa8" stroke-width="1.4"/>
<path d="M455.7,221.2 Q461.3,219.89999999999998 466.90000000000003,221.2 L466.90000000000003,227.2 Q461.3,228.5 455.7,227.2 Z" fill="none" stroke="#d98a2b" stroke-width="1.4" stroke-linejoin="round"/>
<path d="M455.5,233.79999999999998 C456.3,231.29999999999998 458.3,230.29999999999998 461.3,230.29999999999998 C464.3,230.29999999999998 466.3,231.29999999999998 467.1,233.79999999999998 C466.3,236.29999999999998 464.3,237.29999999999998 461.3,237.29999999999998 C458.3,237.29999999999998 456.3,236.29999999999998 455.5,233.79999999999998 Z" fill="none" stroke="#d8302c" stroke-width="1.4"/>
</svg>
</body></html>
